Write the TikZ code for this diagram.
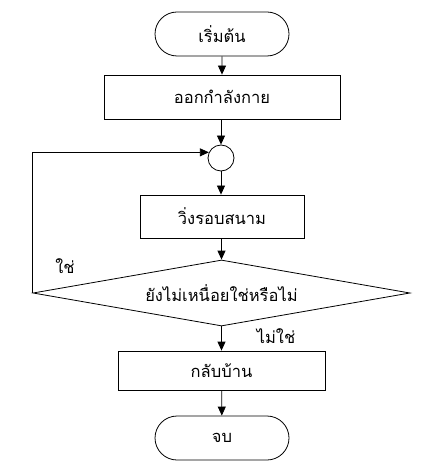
\documentclass[tikz,border=0pt]{standalone}
\usepackage{fontspec}
\newfontfamily\thaifont[Script=Thai]{Loma}
\usetikzlibrary{shapes.geometric,shapes.misc,arrows.meta}
\begin{document}
\begin{tikzpicture}[x=1pt,y=-1pt,
  every node/.style={font=\thaifont\fontsize{16.5}{18}\selectfont},
  term/.style={draw,rounded rectangle,minimum width=134pt,minimum height=44pt,inner sep=0pt,line width=0.8pt},
  proc/.style={draw,rectangle,minimum height=44pt,inner sep=0pt,line width=0.8pt},
  dec/.style={draw,diamond,aspect=5.7,minimum width=377pt,minimum height=66pt,inner sep=0pt,line width=0.8pt},
  junc/.style={draw,circle,minimum size=26pt,inner sep=0pt,line width=0.8pt},
  arr/.style={-{Triangle[length=9pt,width=8pt]},line width=0.8pt},
  lbl/.style={inner sep=0pt}]
\useasboundingbox (0,0) rectangle (440,470);
\node[term] (start) at (222,34) {เริ่มต้น};
\node[proc,minimum width=236pt] (ex) at (222,97) {ออกกำลังกาย};
\node[junc] (j) at (221,158) {};
\node[proc,minimum width=164pt,minimum height=43pt] (run) at (222,216.5) {วิ่งรอบสนาม};
\node[dec] (q) at (221.5,293) {ยังไม่เหนื่อยใช่หรือไม่};
\node[proc,minimum width=207pt,minimum height=39pt] (home) at (221.5,370.5) {กลับบ้าน};
\node[term] (stop) at (222,438) {จบ};
\coordinate (lc) at (q.west |- j.155);
\draw[arr] (start) -- (ex);
\draw[arr] (ex.south -| j) -- (j);
\draw[arr] (j) -- (run.north -| j);
\draw[arr] (run.south -| q) -- (q);
\draw[arr] (q) -- (home);
\draw[arr] (home) -- (stop);
\draw[arr] (q.west) -- (lc) -- (j.155);
\node[lbl] (yes) at (65,266) {ใช่};
\node[lbl] (no) at (276,336) {ไม่ใช่};
\end{tikzpicture}
\end{document}
